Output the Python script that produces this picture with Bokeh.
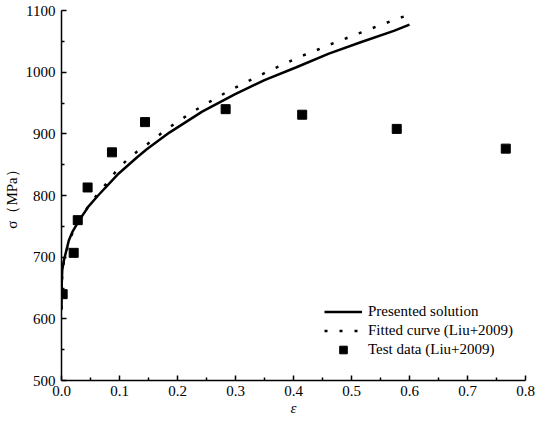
from bokeh.plotting import figure
from bokeh.models import Range1d, FixedTicker, PrintfTickFormatter, Legend, LegendItem
from bokeh.embed import file_html
from bokeh.resources import INLINE

# ---- data ----
x_ticks = [0.0, 0.1, 0.2, 0.3, 0.4, 0.5, 0.6, 0.7, 0.8]
x_minor = [0.05, 0.15, 0.25, 0.35, 0.45, 0.55, 0.65, 0.75]
y_ticks = [500, 600, 700, 800, 900, 1000, 1100]
y_minor = [550, 650, 750, 850, 950, 1050]

eps_sol = [0.0, 0.0005, 0.0013, 0.0042, 0.0126, 0.0193, 0.0294, 0.0463, 0.0631, 0.0967,
           0.1304, 0.147, 0.186, 0.2425, 0.2986, 0.35, 0.405, 0.461, 0.517, 0.573, 0.6]
sig_sol = [615, 660, 679, 695, 727, 742, 758, 782, 800, 834,
           862, 875, 902, 936, 964, 987, 1008, 1030, 1049, 1067, 1077]

eps_fit = [0.0, 0.0013, 0.0042, 0.0126, 0.0193, 0.0294, 0.0463, 0.062, 0.077, 0.092, 0.111,
           0.13, 0.1536, 0.175, 0.1976, 0.22, 0.2425, 0.265, 0.289, 0.3125, 0.336, 0.36,
           0.3838, 0.408, 0.433, 0.458, 0.4825, 0.5077, 0.532, 0.5576, 0.583, 0.6]
sig_fit = [615, 678, 693, 724, 740, 756, 783, 802, 819, 837, 856,
           871, 887, 903, 918, 932, 945, 957, 970, 981, 992, 1003,
           1013, 1024, 1033, 1043, 1052, 1061, 1070, 1079, 1088, 1093]

eps_test = [0.002, 0.021, 0.028, 0.045, 0.087, 0.144, 0.283, 0.415, 0.578, 0.766]
sig_test = [640, 707, 760, 813, 870, 919, 940, 931, 908, 876]

names = ["Presented solution", "Fitted curve (Liu+2009)", "Test data (Liu+2009)"]

FONT = "Liberation Serif"

p = figure(x_range=Range1d(0, 0.8), y_range=Range1d(500, 1100),
           frame_width=464, frame_height=370,
           min_border_left=60, min_border_right=10, min_border_top=10, min_border_bottom=41,
           output_backend="svg", toolbar_location=None)
p.background_fill_color = "white"
p.border_fill_color = "white"
p.outline_line_color = None
p.xgrid.visible = False
p.ygrid.visible = False

for ax in (p.xaxis, p.yaxis):
    ax.axis_line_width = 1.5
    ax.axis_line_color = "black"
    ax.major_tick_in = 5
    ax.major_tick_out = 0
    ax.minor_tick_in = 3
    ax.minor_tick_out = 0
    ax.major_tick_line_width = 1.5
    ax.minor_tick_line_width = 1.5
    ax.major_tick_line_color = "black"
    ax.minor_tick_line_color = "black"
    ax.major_label_text_font = FONT
    ax.major_label_text_font_size = "15px"
    ax.major_label_text_color = "black"
    ax.axis_label_text_font = FONT
    ax.axis_label_text_font_size = "15px"
    ax.axis_label_text_color = "black"

p.xaxis.ticker = FixedTicker(ticks=x_ticks, minor_ticks=x_minor)
p.xaxis.formatter = PrintfTickFormatter(format="%.1f")
p.xaxis.major_label_standoff = 5
p.xaxis.axis_label = "ε"
p.xaxis.axis_label_text_font_style = "italic"
p.xaxis.axis_label_standoff = 1

p.yaxis.ticker = FixedTicker(ticks=y_ticks, minor_ticks=y_minor)
p.yaxis.formatter = PrintfTickFormatter(format="%d")
p.yaxis.major_label_standoff = 6
p.yaxis.axis_label = "σ（MPa）"
p.yaxis.axis_label_text_font_style = "normal"
p.yaxis.axis_label_standoff = 3

r_sol = p.line(eps_sol, sig_sol, line_color="black", line_width=2.5)
r_fit = p.line(eps_fit, sig_fit, line_color="black", line_width=2.5, line_dash="3 12")
r_test = p.scatter(eps_test, sig_test, marker="square", size=9, fill_color="black", line_color="black")

legend = Legend(items=[LegendItem(label=names[0], renderers=[r_sol]),
                       LegendItem(label=names[1], renderers=[r_fit]),
                       LegendItem(label=names[2], renderers=[r_test])],
                location=(263, 21))
legend.border_line_color = None
legend.background_fill_alpha = 0
legend.padding = 0
legend.margin = 0
legend.spacing = 0
legend.glyph_width = 38
legend.glyph_height = 19
legend.label_height = 19
legend.label_standoff = 6
legend.label_text_font = FONT
legend.label_text_font_size = "15px"
legend.label_text_color = "black"
p.add_layout(legend)

open("out.html", "w").write(file_html(p, INLINE))
